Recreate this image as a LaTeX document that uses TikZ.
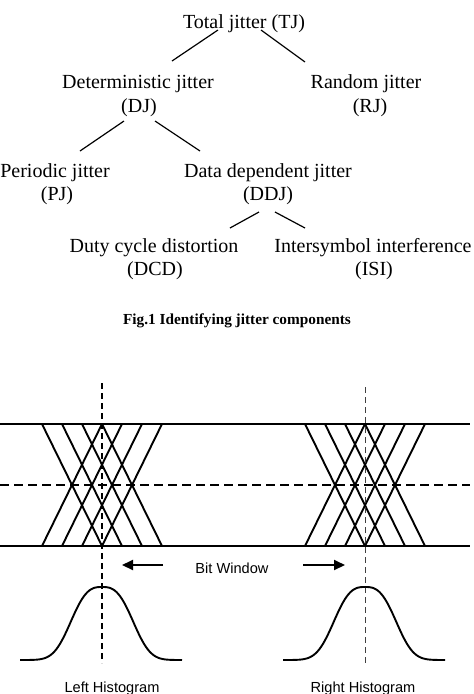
\documentclass[tikz,border=0pt]{standalone}
\usepackage{fontspec}
\setmainfont{Liberation Serif}
\setsansfont{Liberation Sans}
\usetikzlibrary{arrows.meta}
\begin{document}
\begin{tikzpicture}[x=1pt,y=-1pt,
  treetext/.style={inner sep=0pt,anchor=base,font=\fontsize{20}{24}\selectfont},
  captext/.style={inner sep=0pt,anchor=base,font=\bfseries\fontsize{15.3}{18}\selectfont},
  sanstext/.style={inner sep=0pt,anchor=base,font=\sffamily\fontsize{14.6}{17}\selectfont},
  branch/.style={line width=1.2pt},
  rail/.style={line width=1.8pt},
  edgeline/.style={line width=1.9pt},
  midline/.style={line width=1.4pt,dash pattern=on 9pt off 5pt},
  markline/.style={line width=1.6pt,dash pattern=on 6pt off 4pt},
  markthin/.style={line width=1pt,dash pattern=on 6pt off 4pt,black!75},
  bitarrow/.style={line width=2pt,-{Triangle[length=11pt,width=10pt]}},
  histo/.style={line width=1.9pt,line join=round}]
\useasboundingbox (0,0) rectangle (474,694);

% ---------- tree ----------
\node[treetext] (tj)   at (244,28)  {Total jitter (TJ)};
\node[treetext] (dj)   at (138,88)  {Deterministic jitter};
\node[treetext] (djb)  at (139,112) {(DJ)};
\node[treetext] (rj)   at (366,88)  {Random jitter};
\node[treetext] (rjb)  at (370,112) {(RJ)};
\node[treetext] (pj)   at (55,177)  {Periodic jitter};
\node[treetext] (pjb)  at (57,200)  {(PJ)};
\node[treetext] (ddj)  at (268,177) {Data dependent jitter};
\node[treetext] (ddjb) at (268,200) {(DDJ)};
\node[treetext] (dcd)  at (154,252) {Duty cycle distortion};
\node[treetext] (dcdb) at (155,275) {(DCD)};
\node[treetext] (isi)  at (373,252) {Intersymbol interference};
\node[treetext] (isib) at (374,275) {(ISI)};

\draw[branch] ([shift={(-26,2)}]tj.base) -- ([shift={(34,-27)}]dj.base);
\draw[branch] ([shift={(17,2)}]tj.base) -- ([shift={(-61,-26)}]rj.base);
\draw[branch] ([shift={(-15,9)}]djb.base) -- ([shift={(25,-26)}]pj.base);
\draw[branch] ([shift={(16,9)}]djb.base) -- ([shift={(-68,-26)}]ddj.base);
\draw[branch] ([shift={(-9,12)}]ddjb.base) -- ([shift={(76,-24)}]dcd.base);
\draw[branch] ([shift={(7,12)}]ddjb.base) -- ([shift={(-68,-24)}]isi.base);

\node[captext] (cap) at (237,324) {Fig.1 Identifying jitter components};

% ---------- eye diagram ----------
\coordinate (tl) at (0,424);   \coordinate (tr) at (470,424);
\coordinate (ml) at (0,485);   \coordinate (mr) at (470,485);
\coordinate (bl) at (0,546);   \coordinate (br) at (470,546);
\draw[rail] (tl) -- (tr);
\draw[rail] (bl) -- (br);
\draw[midline] (ml) -- (mr);

\foreach \c in {72,92,112,132,335,355,375,395}{
  \draw[edgeline] (\c-30,424) -- (\c+30,546);
  \draw[edgeline] (\c+30,424) -- (\c-30,546);
}

\coordinate (lvt) at (102,383); \coordinate (lvb) at (102,663);
\coordinate (rvt) at (365,387); \coordinate (rvb) at (365,663);
\draw[markline] (lvt) -- (lvb);
\draw[markthin] (rvt) -- (rvb);

% ---------- bit window ----------
\node[sanstext] (bw) at (232,573) {Bit Window};
\coordinate (la) at (163,565); \coordinate (lat) at (122,565);
\coordinate (ra) at (303,565); \coordinate (rat) at (345,565);
\draw[bitarrow] (la) -- (lat);
\draw[bitarrow] (ra) -- (rat);

% ---------- histograms ----------
\draw[histo] plot[domain=-82:80,samples=90,smooth] (102+\x,{660-73*exp(-pow((abs(\x)+0.01)/36.4,2.86))});
\draw[histo] plot[domain=-82:80,samples=90,smooth] (365+\x,{660-73*exp(-pow((abs(\x)+0.01)/36.4,2.86))});

\node[sanstext] (lh) at (112,692) {Left Histogram};
\node[sanstext] (rh) at (363,692) {Right Histogram};
\end{tikzpicture}
\end{document}
